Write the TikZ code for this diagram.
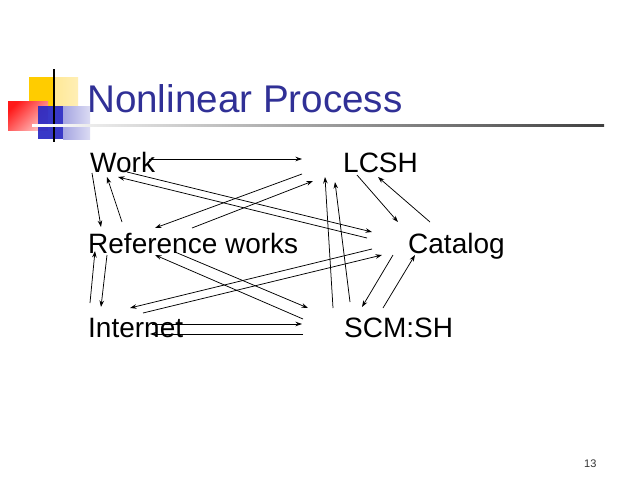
\documentclass[tikz,border=0pt]{standalone}
\usepackage{fontspec}
\setmainfont{Liberation Sans}
\usetikzlibrary{arrows.meta}
\definecolor{titleblue}{RGB}{48,48,150}
\definecolor{logoyellow}{RGB}{255,204,0}
\definecolor{paleyellow}{RGB}{255,232,150}
\definecolor{logoblue}{RGB}{40,40,195}
\definecolor{paleblue}{RGB}{165,165,225}
\tikzset{
  label/.style={anchor=base west, inner sep=0pt, font=\fontsize{28}{30}\selectfont},
  conn/.style={line width=0.75pt, -{Stealth[length=6.5pt,width=4.5pt]}},
}
\begin{document}
\begin{tikzpicture}[x=1pt,y=-1pt]
\useasboundingbox (0,0) rectangle (638,479);
\fill[white] (0,0) rectangle (638,479);
% logo
\fill[logoyellow] (29,77) rectangle (54,107);
\shade[left color=paleyellow, right color=paleyellow!70!white] (54,77) rectangle (78,107);
\shade[left color=red!90!white, right color=red!25!white, shading angle=45] (8,101) rectangle (48,130);
\fill[logoblue, opacity=0.92] (38,106) rectangle (63,139);
\shade[left color=paleblue, right color=paleblue!40!white] (63,106) rectangle (90,139);
\draw[black, line width=1.6pt] (54,69) -- (54,142);
\shade[left color=white, right color=black!75] (32,124) rectangle (604,126.3);
% title
\node[anchor=base west, inner sep=0pt, text=titleblue, font=\fontsize{38.6}{40}\selectfont] (title) at (87,112) {Nonlinear Process};
% labels
\node[label] (work) at (90,172) {Work};
\node[label] (lcsh) at (343,172) {LCSH};
\node[label] (ref) at (88,253) {Reference works};
\node[label] (cat) at (408,253) {Catalog};
\node[label] (int) at (88,337) {Internet};
\node[label] (scm) at (344,337) {SCM:SH};
\node[anchor=base west, inner sep=0pt, text=black!80, font=\fontsize{11}{12}\selectfont] (page) at (584,467) {13};
% endpoints
\coordinate (a1) at (149,159); \coordinate (b1) at (302,159);
\coordinate (a2) at (127,172); \coordinate (b2) at (372,232);
\coordinate (a3) at (367,238); \coordinate (b3) at (118,177);
\coordinate (a4) at (92,173);  \coordinate (b4) at (101,227);
\coordinate (a5) at (122,222); \coordinate (b5) at (107,177);
\coordinate (a6) at (302,174); \coordinate (b6) at (155,228);
\coordinate (a7) at (192,228); \coordinate (b7) at (313,181);
\coordinate (a8) at (333,308); \coordinate (b8) at (325,177);
\coordinate (a9) at (350,302); \coordinate (b9) at (335,182);
\coordinate (a10) at (357,175); \coordinate (b10) at (398,222);
\coordinate (a11) at (430,222); \coordinate (b11) at (378,177);
\coordinate (a12) at (393,255); \coordinate (b12) at (362,307);
\coordinate (a13) at (383,308); \coordinate (b13) at (415,255);
\coordinate (a14) at (90,303);  \coordinate (b14) at (95,251);
\coordinate (a15) at (107,255); \coordinate (b15) at (101,307);
\coordinate (a16) at (175,252); \coordinate (b16) at (308,308);
\coordinate (a17) at (303,319); \coordinate (b17) at (155,255);
\coordinate (a18) at (372,249); \coordinate (b18) at (130,308);
\coordinate (a19) at (143,313); \coordinate (b19) at (382,255);
\coordinate (a20) at (152,324); \coordinate (b20) at (302,324);
\coordinate (a21) at (303,334); \coordinate (b21) at (150,334);
\foreach \i in {1,...,21} { \draw[conn] (a\i) -- (b\i); }
\end{tikzpicture}
\end{document}
